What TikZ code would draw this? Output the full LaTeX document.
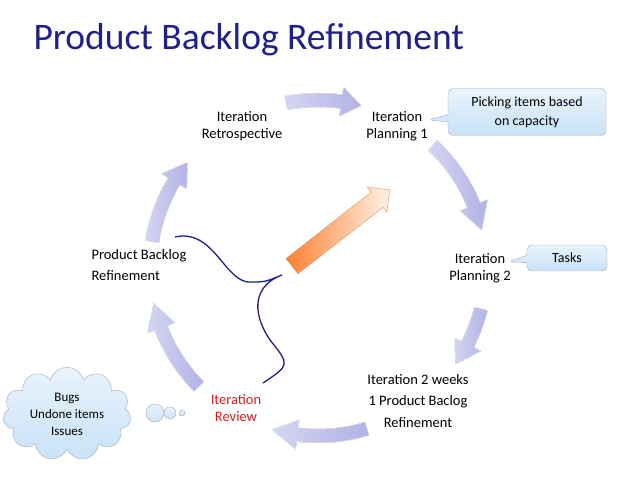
\documentclass[tikz,border=0pt]{standalone}
\usepackage{fontspec}
\setmainfont{Carlito}
\usetikzlibrary{shapes.arrows,shapes.callouts,shapes.symbols}
\definecolor{navytitle}{RGB}{32,32,140}
\definecolor{cycblue}{RGB}{178,178,230}
\definecolor{calloutblue}{RGB}{200,226,248}
\definecolor{reviewred}{RGB}{210,30,30}
\tikzset{
    phase/.style={
           align=center,
           font=\fontsize{14.5}{17}\selectfont
           },
    cyc/.style={
           left color=cycblue!55, right color=cycblue,
           draw=white
           },
    note/.style={
           rectangle callout,
           rounded corners=5pt,
           draw=cycblue!60!black!60,
           top color=calloutblue!40, bottom color=calloutblue,
           align=center,
           font=\fontsize{14}{19}\selectfont
           },
}
% curved block arrow round the cycle: start angle, neck angle, tip angle
\newcommand\cycarrow[3]{%
  \fill[cyc] ([shift={(318,210)}]#1:175) arc[start angle=#1,end angle=#2,radius=175]
    -- ([shift={(318,210)}]#2:183) -- ([shift={(318,210)}]#3:168)
    -- ([shift={(318,210)}]#2:153) -- ([shift={(318,210)}]#2:161)
    arc[start angle=#2,end angle=#1,radius=161] -- cycle;}

\begin{document}
\begin{tikzpicture}[x=1pt,y=1pt]
    \useasboundingbox (0,0) rectangle (638,478);

    \node[anchor=west, text=navytitle, font=\fontsize{37.5}{40}\selectfont] (title) at (30,438)
      {Product Backlog Refinement};

    % the cycle
    \cycarrow{101}{82}{75}
    \cycarrow{47}{22}{13}
    \cycarrow{-14}{-27}{-35}
    \cycarrow{-73}{-97}{-106}
    \cycarrow{-135}{-159}{-168}
    \cycarrow{171}{149}{141}

    \node[phase] (RETRO) at (242,352) {Iteration\\Retrospective};
    \node[phase] (PLAN1) at (397,352) {Iteration\\Planning 1};
    \node[phase] (PLAN2) at (480,210) {Iteration\\Planning 2};
    \node[phase, text=reviewred] (REVIEW) at (236,70) {Iteration\\Review};
    \node[phase, align=left, anchor=west, font=\fontsize{14.5}{21}\selectfont] (BACKLOG) at (88,213)
      {Product Backlog\\Refinement};
    \node[phase, font=\fontsize{14.5}{21.5}\selectfont] (ITER2) at (418,77)
      {Iteration 2 weeks\\1 Product Baclog\\Refinement};

    % callouts
    \node[note, minimum width=158, minimum height=47,
          callout absolute pointer={(428,358)}] (PICK) at (527,366)
      {Picking items based\\on capacity};
    \node[note, minimum width=80, minimum height=26,
          callout absolute pointer={(508,216)}] (TASKS) at (567,220) {Tasks};

    % thought cloud
    \node[cloud, cloud puffs=11, aspect=1.6, draw=cycblue!60!black!60,
          top color=calloutblue!40, bottom color=calloutblue,
          minimum width=128, minimum height=84, align=center,
          font=\fontsize{13}{17}\selectfont] (ISSUES) at (67,64)
      {Bugs\\Undone items\\Issues};
    \foreach \x/\r in {155/9, 170/6, 182/3}
      \draw[draw=cycblue!60!black!60, top color=calloutblue!40, bottom color=calloutblue]
        (\x,65) circle[radius=\r];

    % pointer to the improvement
    \node[single arrow, rotate=38, minimum height=124, minimum width=32,
          inner ysep=9pt, single arrow head extend=6pt, draw=orange!70!black!60,
          left color=orange!75!red!80, right color=orange!10] (BOOST) at (337,247) {};

    \draw[navytitle, line width=1.3pt]
      (175,241) .. controls (215,250) and (225,193) .. (252,196)
      .. controls (265,196) .. (282,203)
      .. controls (255,193) and (250,168) .. (270,138)
      .. controls (290,113) .. (263,95);
\end{tikzpicture}
\end{document}
